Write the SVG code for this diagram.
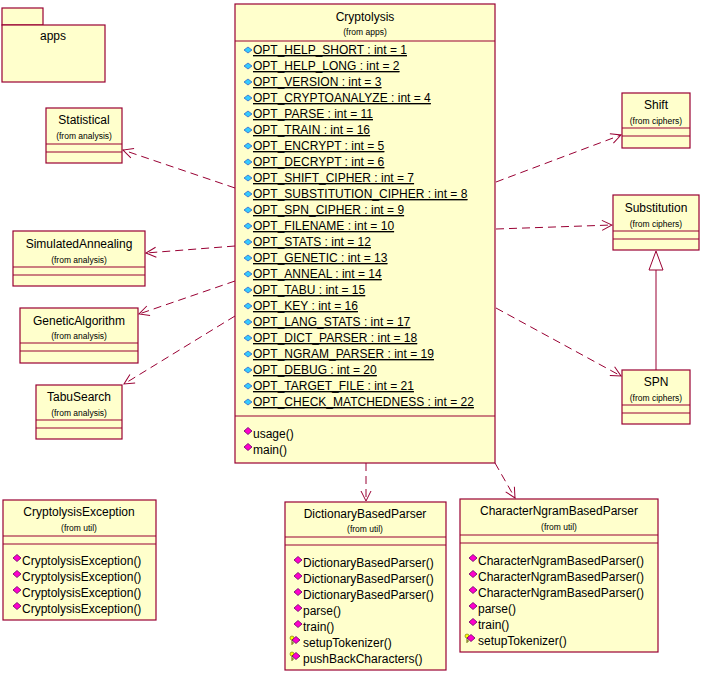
<svg xmlns="http://www.w3.org/2000/svg" width="702" height="675" viewBox="0 0 702 675">
<defs>
<style>
.b{fill:#ffffcc;stroke:#990033;stroke-width:1.2}
.l{stroke:#990033;stroke-width:1.2}
text{font-family:"Liberation Sans",Arial,sans-serif;font-size:12px;fill:#000}
.n{text-anchor:middle}
.f{font-size:8.5px;text-anchor:middle}
.u{text-decoration:underline}
.d{stroke:#990033;stroke-width:1;fill:none;stroke-dasharray:8,5}
.s{stroke:#990033;stroke-width:1;fill:none}
</style>
<marker id="oa" markerWidth="12" markerHeight="12" refX="11" refY="6" orient="auto" markerUnits="userSpaceOnUse"><path d="M1,1 L11,6 L1,11" fill="none" stroke="#990033" stroke-width="1"/></marker>
<g id="ia"><path d="M0,-3 L4,0 L0,3 L-4,0Z" fill="#33ccff" stroke="#3366cc" stroke-width="0.8"/></g>
<g id="im"><path d="M0,-3.5 L4,0 L0,3.5 L-4,0Z" fill="#ff00cc" stroke="#660066" stroke-width="0.8"/></g>
<g id="ik"><circle cx="-2" cy="-2" r="2" fill="#ffff00" stroke="#666600" stroke-width="0.6"/><path d="M-2,0 L-2,5 M-2,3 L0,3" stroke="#666600" stroke-width="1"/><path d="M2,-3.5 L6,0 L2,3.5 L-2,0Z" fill="#ff00cc" stroke="#660066" stroke-width="0.8"/></g>
</defs>
<rect width="702" height="675" fill="#fff"/>
<g id="apps"><rect class="b" x="2" y="8" width="41" height="17"/><rect class="b" x="2" y="25" width="103" height="57"/><text class="n" x="53" y="40">apps</text></g>
<g id="Statistical"><rect class="b" x="46" y="108" width="76" height="55"/><text class="n" x="84" y="124">Statistical</text><text class="f" x="84" y="139">(from analysis)</text><line class="l" x1="46" y1="144" x2="122" y2="144"/><line class="l" x1="46" y1="152" x2="122" y2="152"/></g>
<g id="SimulatedAnnealing"><rect class="b" x="13" y="231" width="132" height="55"/><text class="n" x="79" y="248">SimulatedAnnealing</text><text class="f" x="79" y="263">(from analysis)</text><line class="l" x1="13" y1="267" x2="145" y2="267"/><line class="l" x1="13" y1="275" x2="145" y2="275"/></g>
<g id="GeneticAlgorithm"><rect class="b" x="20" y="308" width="118" height="55"/><text class="n" x="79" y="325">GeneticAlgorithm</text><text class="f" x="79" y="339">(from analysis)</text><line class="l" x1="20" y1="343" x2="138" y2="343"/><line class="l" x1="20" y1="351" x2="138" y2="351"/></g>
<g id="TabuSearch"><rect class="b" x="36" y="385" width="86" height="54"/><text class="n" x="79" y="401">TabuSearch</text><text class="f" x="79" y="416">(from analysis)</text><line class="l" x1="36" y1="420" x2="122" y2="420"/><line class="l" x1="36" y1="428" x2="122" y2="428"/></g>
<g id="Shift"><rect class="b" x="622" y="93" width="68" height="55"/><text class="n" x="656" y="109">Shift</text><text class="f" x="656" y="124">(from ciphers)</text><line class="l" x1="622" y1="128" x2="690" y2="128"/><line class="l" x1="622" y1="136" x2="690" y2="136"/></g>
<g id="Substitution"><rect class="b" x="613" y="195" width="86" height="55"/><text class="n" x="656" y="212">Substitution</text><text class="f" x="656" y="227">(from ciphers)</text><line class="l" x1="613" y1="231" x2="699" y2="231"/><line class="l" x1="613" y1="239" x2="699" y2="239"/></g>
<g id="SPN"><rect class="b" x="622" y="370" width="68" height="54"/><text class="n" x="656" y="386">SPN</text><text class="f" x="656" y="401">(from ciphers)</text><line class="l" x1="622" y1="405" x2="690" y2="405"/><line class="l" x1="622" y1="413" x2="690" y2="413"/></g>
<g id="Cryptolysis"><rect class="b" x="235" y="4" width="260" height="459"/><text class="n" x="365" y="21">Cryptolysis</text><text class="f" x="365" y="35">(from apps)</text><line class="l" x1="235" y1="41" x2="495" y2="41"/><line class="l" x1="235" y1="416" x2="495" y2="416"/>
<g class="u">
<use href="#ia" x="248" y="50"/><text class="u" x="253" y="54">OPT_HELP_SHORT : int = 1</text>
<use href="#ia" x="248" y="66"/><text class="u" x="253" y="70">OPT_HELP_LONG : int = 2</text>
<use href="#ia" x="248" y="82"/><text class="u" x="253" y="86">OPT_VERSION : int = 3</text>
<use href="#ia" x="248" y="98"/><text class="u" x="253" y="102">OPT_CRYPTOANALYZE : int = 4</text>
<use href="#ia" x="248" y="114"/><text class="u" x="253" y="118">OPT_PARSE : int = 11</text>
<use href="#ia" x="248" y="130"/><text class="u" x="253" y="134">OPT_TRAIN : int = 16</text>
<use href="#ia" x="248" y="146"/><text class="u" x="253" y="150">OPT_ENCRYPT : int = 5</text>
<use href="#ia" x="248" y="162"/><text class="u" x="253" y="166">OPT_DECRYPT : int = 6</text>
<use href="#ia" x="248" y="178"/><text class="u" x="253" y="182">OPT_SHIFT_CIPHER : int = 7</text>
<use href="#ia" x="248" y="194"/><text class="u" x="253" y="198">OPT_SUBSTITUTION_CIPHER : int = 8</text>
<use href="#ia" x="248" y="210"/><text class="u" x="253" y="214">OPT_SPN_CIPHER : int = 9</text>
<use href="#ia" x="248" y="226"/><text class="u" x="253" y="230">OPT_FILENAME : int = 10</text>
<use href="#ia" x="248" y="242"/><text class="u" x="253" y="246">OPT_STATS : int = 12</text>
<use href="#ia" x="248" y="258"/><text class="u" x="253" y="262">OPT_GENETIC : int = 13</text>
<use href="#ia" x="248" y="274"/><text class="u" x="253" y="278">OPT_ANNEAL : int = 14</text>
<use href="#ia" x="248" y="290"/><text class="u" x="253" y="294">OPT_TABU : int = 15</text>
<use href="#ia" x="248" y="306"/><text class="u" x="253" y="310">OPT_KEY : int = 16</text>
<use href="#ia" x="248" y="322"/><text class="u" x="253" y="326">OPT_LANG_STATS : int = 17</text>
<use href="#ia" x="248" y="338"/><text class="u" x="253" y="342">OPT_DICT_PARSER : int = 18</text>
<use href="#ia" x="248" y="354"/><text class="u" x="253" y="358">OPT_NGRAM_PARSER : int = 19</text>
<use href="#ia" x="248" y="370"/><text class="u" x="253" y="374">OPT_DEBUG : int = 20</text>
<use href="#ia" x="248" y="386"/><text class="u" x="253" y="390">OPT_TARGET_FILE : int = 21</text>
<use href="#ia" x="248" y="402"/><text class="u" x="253" y="406">OPT_CHECK_MATCHEDNESS : int = 22</text>
</g>
<use href="#im" x="248" y="431"/><text x="253" y="438">usage()</text>
<use href="#im" x="248" y="447"/><text x="253" y="454">main()</text>
</g>
<g id="CryptolysisException"><rect class="b" x="3" y="500" width="153" height="120"/><text class="n" x="79" y="516">CryptolysisException</text><text class="f" x="79" y="531">(from util)</text><line class="l" x1="3" y1="536" x2="156" y2="536"/><line class="l" x1="3" y1="544" x2="156" y2="544"/>
<use href="#im" x="17" y="558"/><text x="22" y="565">CryptolysisException()</text>
<use href="#im" x="17" y="574"/><text x="22" y="581">CryptolysisException()</text>
<use href="#im" x="17" y="590"/><text x="22" y="597">CryptolysisException()</text>
<use href="#im" x="17" y="606"/><text x="22" y="613">CryptolysisException()</text>
</g>
<g id="DictionaryBasedParser"><rect class="b" x="285" y="502" width="161" height="168"/><text class="n" x="365" y="518">DictionaryBasedParser</text><text class="f" x="365" y="532">(from util)</text><line class="l" x1="285" y1="537" x2="446" y2="537"/><line class="l" x1="285" y1="545" x2="446" y2="545"/>
<use href="#im" x="298" y="560"/><text x="303" y="567">DictionaryBasedParser()</text>
<use href="#im" x="298" y="576"/><text x="303" y="583">DictionaryBasedParser()</text>
<use href="#im" x="298" y="592"/><text x="303" y="599">DictionaryBasedParser()</text>
<use href="#im" x="298" y="608"/><text x="303" y="615">parse()</text>
<use href="#im" x="298" y="624"/><text x="303" y="631">train()</text>
<use href="#ik" x="294" y="640"/><text x="303" y="647">setupTokenizer()</text>
<use href="#ik" x="294" y="656"/><text x="303" y="663">pushBackCharacters()</text>
</g>
<g id="CharacterNgramBasedParser"><rect class="b" x="460" y="499" width="198" height="153"/><text class="n" x="559" y="515">CharacterNgramBasedParser</text><text class="f" x="559" y="530">(from util)</text><line class="l" x1="460" y1="535" x2="658" y2="535"/><line class="l" x1="460" y1="543" x2="658" y2="543"/>
<use href="#im" x="473" y="558"/><text x="478" y="565">CharacterNgramBasedParser()</text>
<use href="#im" x="473" y="574"/><text x="478" y="581">CharacterNgramBasedParser()</text>
<use href="#im" x="473" y="590"/><text x="478" y="597">CharacterNgramBasedParser()</text>
<use href="#im" x="473" y="606"/><text x="478" y="613">parse()</text>
<use href="#im" x="473" y="622"/><text x="478" y="629">train()</text>
<use href="#ik" x="469" y="638"/><text x="478" y="645">setupTokenizer()</text>
</g>
<g id="connectors">
<path class="d" d="M235,188 L123,150" marker-end="url(#oa)"/>
<path class="d" d="M235,246 L146,253" marker-end="url(#oa)"/>
<path class="d" d="M235,281 L139,314" marker-end="url(#oa)"/>
<path class="d" d="M235,316 L124,384" marker-end="url(#oa)"/>
<path class="d" d="M496,182 L621,135" marker-end="url(#oa)"/>
<path class="d" d="M496,229 L612,225" marker-end="url(#oa)"/>
<path class="d" d="M496,308 L621,376" marker-end="url(#oa)"/>
<path class="d" d="M366,463 L366,501" marker-end="url(#oa)"/>
<path class="d" d="M495,463 L515,498" marker-end="url(#oa)"/>
<path class="s" d="M656,370 L656,270"/>
<path d="M656,251 L663,270 L649,270Z" fill="#fff" stroke="#990033" stroke-width="1"/>
</g>
</svg>
